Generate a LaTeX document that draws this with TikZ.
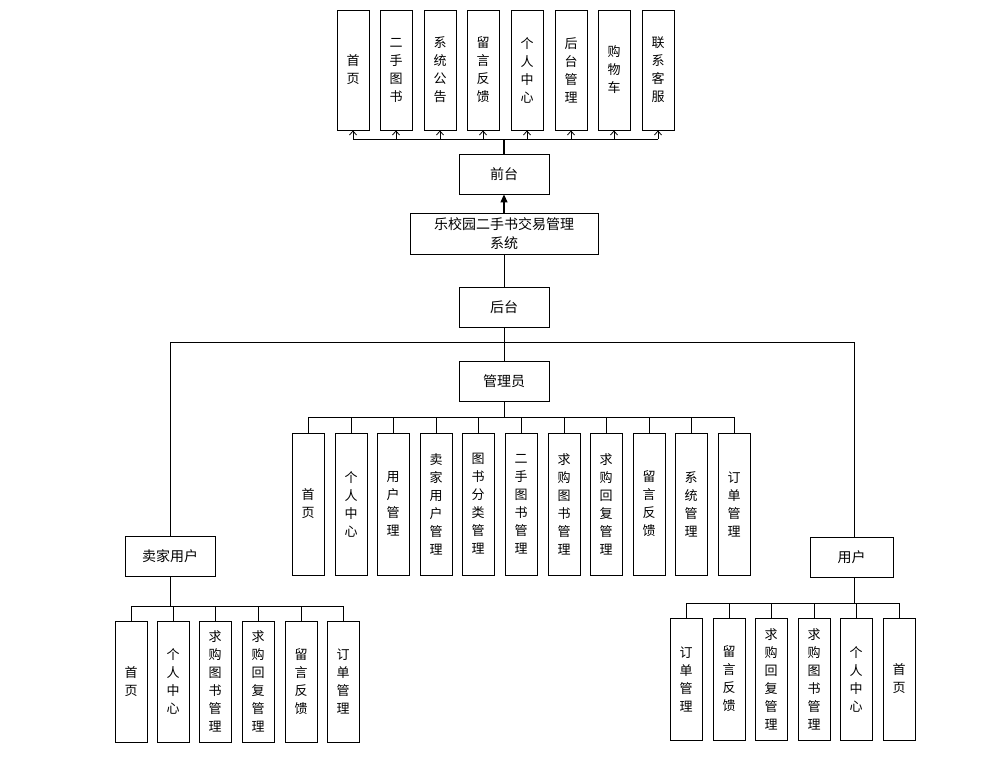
\documentclass[tikz,border=0pt]{standalone}
\usepackage{fontspec}
\newfontfamily\cjk{Noto Sans CJK SC}
\usetikzlibrary{arrows.meta}
\begin{document}
\begin{tikzpicture}[x=1pt,y=-1pt,
 bx/.style={draw,thick,minimum width=90pt,minimum height=40pt,inner sep=0pt,font=\cjk\fontsize{14}{19}\selectfont,align=center},
 vb/.style={draw,thick,minimum width=32pt,inner sep=0pt,font=\cjk\fontsize{13}{18}\selectfont,align=center},
 ln/.style={draw,line width=0.8pt},
 oa/.style={-{Straight Barb[length=4pt,width=7pt]}}]
\useasboundingbox (0,0) rectangle (993,761);
% top
\node[bx] (qt) at (504,174) {前台};
\node[bx,minimum width=188pt,minimum height=41pt] (sys) at (504,233.5) {乐校园二手书交易管理\\系统};
\node[bx] (ht) at (504,307) {后台};
\node[bx] (gly) at (504,381) {管理员};
\node[bx] (mj) at (170,556) {卖家用户};
\node[bx,minimum width=83pt] (yh) at (851.5,557) {用户};
\draw[line width=1.2pt,-{Triangle[length=8pt,width=7pt]}] (sys.north) -- (qt.south);
\draw[ln] (sys.south) -- (ht.north);
\coordinate (tb) at (504,139);
\draw[line width=1.5pt] (qt.north) -- (tb);
\foreach \n/\x/\t in {t1/353/{首\\页},t2/396/{二\\手\\图\\书},t3/440/{系\\统\\公\\告},t4/483/{留\\言\\反\\馈},t5/527/{个\\人\\中\\心},t6/571/{后\\台\\管\\理},t7/614/{购\\物\\车},t8/658/{联\\系\\客\\服}}{
 \node[vb,minimum height=120pt] (\n) at (\x,70) {\t};
 \draw[ln,oa] (\x,139) -- (\n.south);
}
\draw[ln] (353,139) -- (658,139);
% backend
\draw[ln] (ht.south) -- (gly.north);
\draw[ln] (170,342) -- (854,342);
\draw[ln] (170,342) -- (mj.north);
\draw[ln] (854,342) -- (854,537);
% admin
\draw[ln] (gly.south) -- (504,417);
\draw[ln] (308,417) -- (734,417);
\foreach \n/\x/\t in {a1/308/{首\\页},a2/351/{个\\人\\中\\心},a3/393/{用\\户\\管\\理},a4/436/{卖\\家\\用\\户\\管\\理},a5/478/{图\\书\\分\\类\\管\\理},a6/521/{二\\手\\图\\书\\管\\理},a7/564/{求\\购\\图\\书\\管\\理},a8/606/{求\\购\\回\\复\\管\\理},a9/649/{留\\言\\反\\馈},a10/691/{系\\统\\管\\理},a11/734/{订\\单\\管\\理}}{
 \node[vb,minimum height=142pt] (\n) at (\x,504) {\t};
 \draw[ln] (\x,417) -- (\n.north);
}
% seller
\draw[ln] (mj.south) -- (170,606);
\draw[ln] (131,606) -- (343,606);
\foreach \n/\x/\t in {s1/131/{首\\页},s2/173/{个\\人\\中\\心},s3/215/{求\\购\\图\\书\\管\\理},s4/258/{求\\购\\回\\复\\管\\理},s5/301/{留\\言\\反\\馈},s6/343/{订\\单\\管\\理}}{
 \node[vb,minimum height=121pt] (\n) at (\x,681.5) {\t};
 \draw[ln] (\x,606) -- (\n.north);
}
% user
\draw[ln] (854,577) -- (854,603);
\draw[ln] (686,603) -- (899,603);
\foreach \n/\x/\t in {u1/686/{订\\单\\管\\理},u2/729/{留\\言\\反\\馈},u3/771/{求\\购\\回\\复\\管\\理},u4/814/{求\\购\\图\\书\\管\\理},u5/856/{个\\人\\中\\心},u6/899/{首\\页}}{
 \node[vb,minimum height=122pt] (\n) at (\x,679) {\t};
 \draw[ln] (\x,603) -- (\n.north);
}
\end{tikzpicture}
\end{document}
